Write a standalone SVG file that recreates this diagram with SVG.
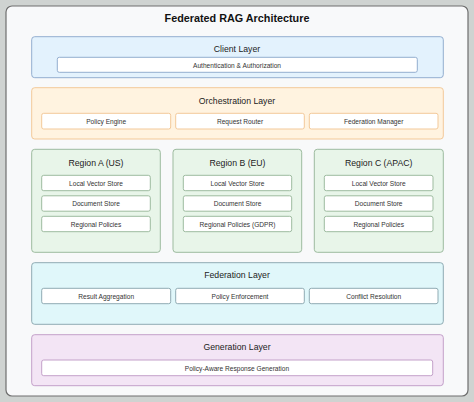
<svg xmlns="http://www.w3.org/2000/svg" width="474" height="402" viewBox="0 0 474 402">
<style>
text{font-family:"Liberation Sans",Arial,sans-serif;fill:#222;text-anchor:middle;dominant-baseline:central}
.title{font-size:10.8px;font-weight:bold;fill:#111}
.lt{font-size:8.7px}
.it{font-size:6.6px;fill:#333}
.box{fill:#fff;stroke-width:1}
.client{fill:#e3f2fd;stroke:#93aecf}
.orch{fill:#fff3e0;stroke:#f3c999}
.region{fill:#e8f5e9;stroke:#9dbb9f}
.fed{fill:#e0f7fa;stroke:#8fabb3}
.gen{fill:#f3e5f5;stroke:#c3a0c9}
</style>
<rect x="0" y="0" width="474" height="402" fill="#cfd3d1"/>
<rect x="6" y="6" width="462" height="390" rx="6" fill="#f8f9fa" stroke="#6e6e6e" stroke-width="1.2"/>
<text class="title" x="237" y="17.5">Federated RAG Architecture</text>
<g id="client-layer">
<rect class="client" x="31.7" y="36.7" width="411.6" height="41" rx="3"/>
<text class="lt" x="237" y="49">Client Layer</text>
<rect class="box" stroke="#93aecf" x="57.3" y="57.3" width="360" height="15" rx="2"/>
<text class="it" x="237" y="65">Authentication &amp; Authorization</text>
</g>
<g id="orchestration-layer">
<rect class="orch" x="31.7" y="87.7" width="411.6" height="51.3" rx="3"/>
<text class="lt" x="237" y="100.5">Orchestration Layer</text>
<rect class="box" stroke="#f3c999" x="41.7" y="113.3" width="129" height="15.7" rx="2"/>
<text class="it" x="106.2" y="121.3">Policy Engine</text>
<rect class="box" stroke="#f3c999" x="175.7" y="113.3" width="128.6" height="15.7" rx="2"/>
<text class="it" x="240" y="121.3">Request Router</text>
<rect class="box" stroke="#f3c999" x="309.3" y="113.3" width="128.7" height="15.7" rx="2"/>
<text class="it" x="373.7" y="121.3">Federation Manager</text>
</g>
<g id="region-a">
<rect class="region" x="31.7" y="149.3" width="128.6" height="103" rx="3"/>
<text class="lt" x="96" y="162.7">Region A (US)</text>
<rect class="box" stroke="#9dbb9f" x="41.7" y="175.3" width="108.6" height="15.4" rx="2"/>
<text class="it" x="96" y="183.2">Local Vector Store</text>
<rect class="box" stroke="#9dbb9f" x="41.7" y="195.8" width="108.6" height="15.4" rx="2"/>
<text class="it" x="96" y="203.7">Document Store</text>
<rect class="box" stroke="#9dbb9f" x="41.7" y="216.3" width="108.6" height="15.4" rx="2"/>
<text class="it" x="96" y="224.2">Regional Policies</text>
</g>
<g id="region-b">
<rect class="region" x="173" y="149.3" width="128.7" height="103" rx="3"/>
<text class="lt" x="237.5" y="162.7">Region B (EU)</text>
<rect class="box" stroke="#9dbb9f" x="183.3" y="175.3" width="108.4" height="15.4" rx="2"/>
<text class="it" x="237.5" y="183.2">Local Vector Store</text>
<rect class="box" stroke="#9dbb9f" x="183.3" y="195.8" width="108.4" height="15.4" rx="2"/>
<text class="it" x="237.5" y="203.7">Document Store</text>
<rect class="box" stroke="#9dbb9f" x="183.3" y="216.3" width="108.4" height="15.4" rx="2"/>
<text class="it" x="237.5" y="224.2">Regional Policies (GDPR)</text>
</g>
<g id="region-c">
<rect class="region" x="314.3" y="149.3" width="129" height="103" rx="3"/>
<text class="lt" x="378.7" y="162.7">Region C (APAC)</text>
<rect class="box" stroke="#9dbb9f" x="324.3" y="175.3" width="108.7" height="15.4" rx="2"/>
<text class="it" x="378.7" y="183.2">Local Vector Store</text>
<rect class="box" stroke="#9dbb9f" x="324.3" y="195.8" width="108.7" height="15.4" rx="2"/>
<text class="it" x="378.7" y="203.7">Document Store</text>
<rect class="box" stroke="#9dbb9f" x="324.3" y="216.3" width="108.7" height="15.4" rx="2"/>
<text class="it" x="378.7" y="224.2">Regional Policies</text>
</g>
<g id="federation-layer">
<rect class="fed" x="31.7" y="262.7" width="411.6" height="61.6" rx="3"/>
<text class="lt" x="237" y="275.3">Federation Layer</text>
<rect class="box" stroke="#8fabb3" x="41.7" y="288.3" width="129" height="15.4" rx="2"/>
<text class="it" x="106.2" y="296.2">Result Aggregation</text>
<rect class="box" stroke="#8fabb3" x="175.7" y="288.3" width="128.6" height="15.4" rx="2"/>
<text class="it" x="240" y="296.2">Policy Enforcement</text>
<rect class="box" stroke="#8fabb3" x="309.3" y="288.3" width="128.7" height="15.4" rx="2"/>
<text class="it" x="373.7" y="296.2">Conflict Resolution</text>
</g>
<g id="generation-layer">
<rect class="gen" x="31.7" y="334.7" width="411.6" height="51" rx="3"/>
<text class="lt" x="237" y="347.3">Generation Layer</text>
<rect class="box" stroke="#c3a0c9" x="41.7" y="360" width="391" height="15.7" rx="2"/>
<text class="it" x="237" y="368">Policy-Aware Response Generation</text>
</g>
<g id="connectors"></g>
</svg>
